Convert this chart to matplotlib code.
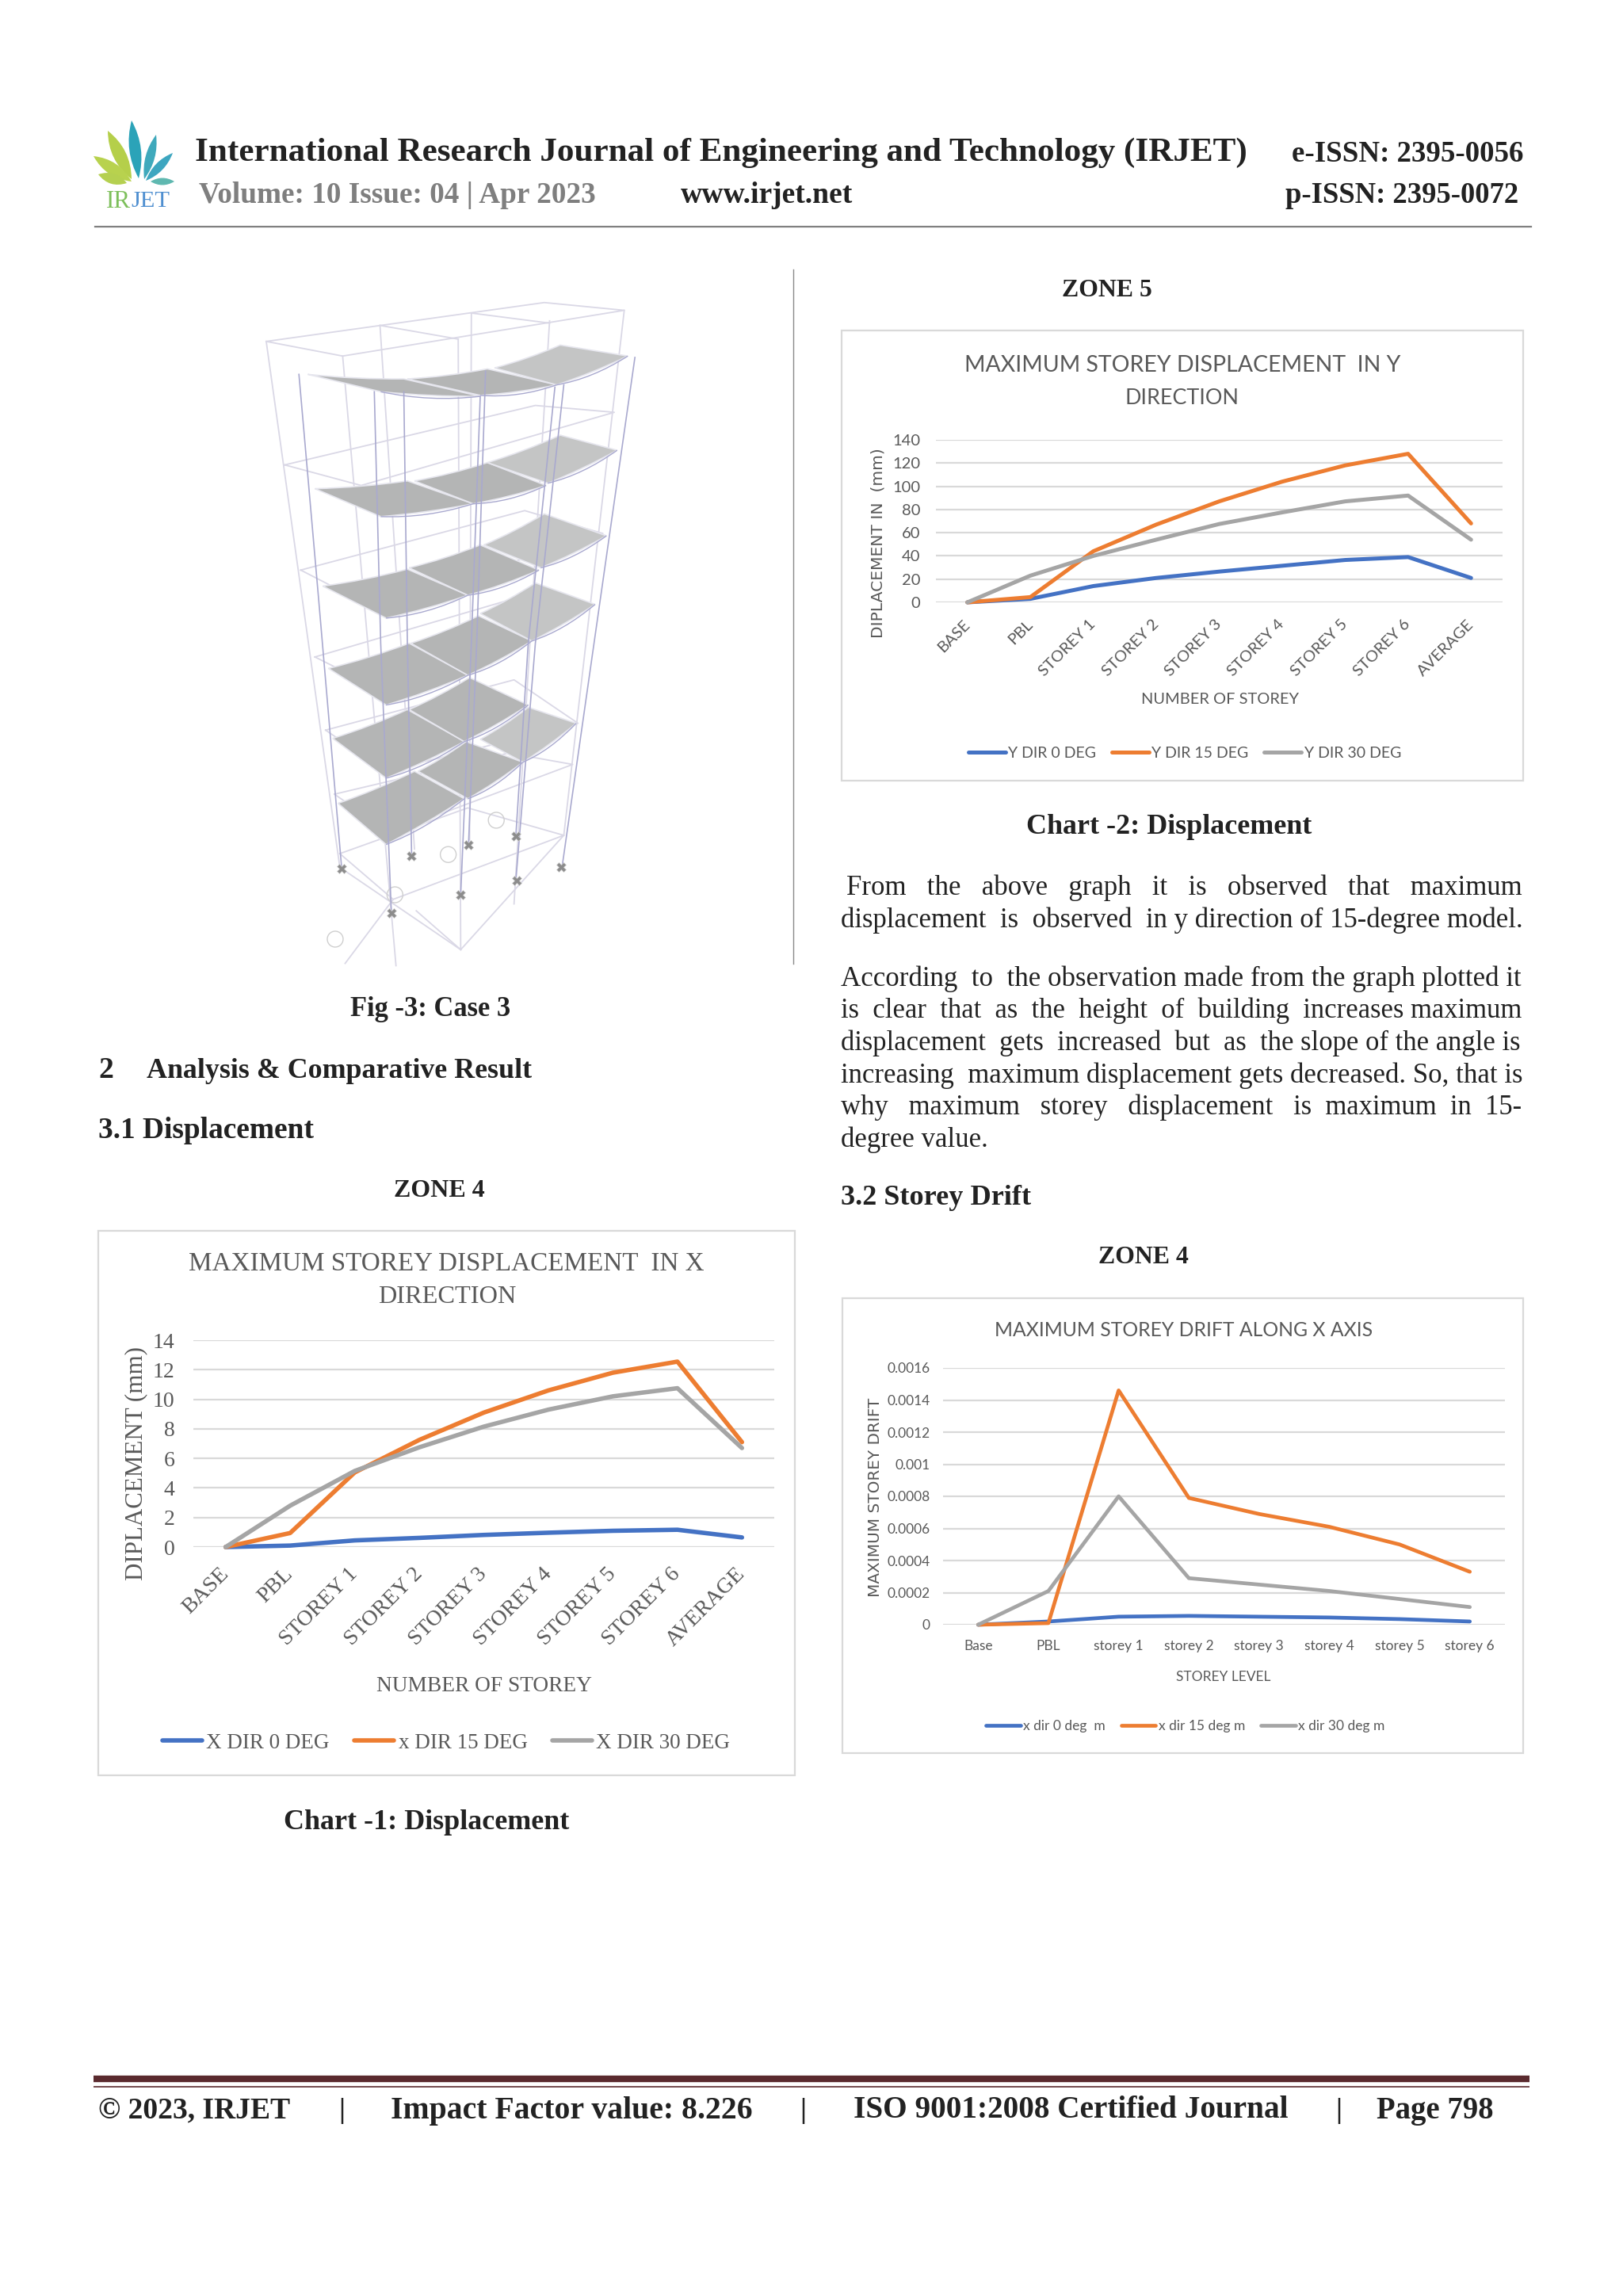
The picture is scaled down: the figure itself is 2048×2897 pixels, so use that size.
import matplotlib
matplotlib.use("Agg")
from matplotlib import pyplot as plt
from matplotlib.patches import Rectangle, PathPatch, Circle
from matplotlib.path import Path

W, H = 2048, 2897
SERIF = "Liberation Serif"
SANS = "Lato"
TXT = "#595959"
INK = "#222222"
BLUE, ORANGE, GREY = "#4472C4", "#ED7D31", "#A5A5A5"

# chart data
cats_disp = ["BASE", "PBL", "STOREY 1", "STOREY 2", "STOREY 3", "STOREY 4", "STOREY 5", "STOREY 6", "AVERAGE"]
x_dir_0 = [0, 0.1, 0.45, 0.62, 0.82, 0.97, 1.1, 1.17, 0.65]
x_dir_15 = [0, 0.95, 5.05, 7.25, 9.1, 10.6, 11.8, 12.55, 7.1]
x_dir_30 = [0, 2.8, 5.15, 6.75, 8.15, 9.3, 10.2, 10.75, 6.7]
ticks_x = [0, 2, 4, 6, 8, 10, 12, 14]

y_dir_0 = [0, 3, 14, 21, 26.5, 31.5, 36.5, 39, 21]
y_dir_15 = [0, 4.5, 44, 67, 87, 104, 118, 128, 68]
y_dir_30 = [0, 23, 40, 54, 67.5, 77.5, 87, 92, 54]
ticks_y = [0, 20, 40, 60, 80, 100, 120, 140]

cats_drift = ["Base", "PBL", "storey 1", "storey 2", "storey 3", "storey 4", "storey 5", "storey 6"]
drift_0 = [0, 0.00002, 0.00005, 0.000055, 0.00005, 0.000045, 0.000035, 0.00002]
drift_15 = [0, 0.00001, 0.00146, 0.00079, 0.00069, 0.00061, 0.0005, 0.00033]
drift_30 = [0, 0.00021, 0.0008, 0.00029, 0.00025, 0.00021, 0.00016, 0.00011]
ticks_drift = [0, 0.0002, 0.0004, 0.0006, 0.0008, 0.001, 0.0012, 0.0014, 0.0016]
ticklabels_drift = ["0", "0.0002", "0.0004", "0.0006", "0.0008", "0.001", "0.0012", "0.0014", "0.0016"]

fig = plt.figure(figsize=(W / 100, H / 100), dpi=100, facecolor="white")
page = fig.add_axes([0, 0, 1, 1])
page.set_xlim(0, W)
page.set_ylim(H, 0)
page.axis("off")
renderer = fig.canvas.get_renderer()


def put(x, y, s, width=None, size=24, ha="left", color="black", weight="normal", family=SERIF, rotation=0):
    if rotation == 0:
        y += 3
    t = page.text(x, y, s, fontsize=size, ha=ha, va="center", color=color, fontweight=weight,
                  family=family, rotation=rotation)
    if width:
        box = t.get_window_extent(renderer)
        t.set_fontsize(size * width / (box.height if rotation else box.width))
    return t


def span(x0, x1, y, s, **kw):
    # text squeezed or stretched to run from x0 to x1
    return put(x0, y, s, width=x1 - x0, **kw)


def justified(x0, x1, y, s, size=25):
    # body text: widen the gaps with extra spaces, then fit the last few pixels
    words = s.split(" ")
    gaps = [1] * (len(words) - 1)
    i = 0
    while True:
        line = "".join(w + " " * g for w, g in zip(words, gaps + [0]))
        t = page.text(0, 0, line, fontsize=size, family=SERIF)
        wide = t.get_window_extent(renderer).width
        t.remove()
        if wide >= (x1 - x0) - 4:
            break
        gaps[i % len(gaps)] += 1
        i += 1
    return span(x0, x1, y, line, color=INK, size=size)


def chart(box, frame, cats, series, names, ticks, ticklabels, ymax, lw, font, tick_size, pad_y, pad_x, legend, rotated=True):
    l, t, r, b = box
    page.add_patch(Rectangle((frame[0], frame[1]), frame[2] - frame[0], frame[3] - frame[1],
                             fc="white", ec="#D9D9D9", lw=1.6))
    ax = fig.add_axes([l / W, 1 - b / H, (r - l) / W, (b - t) / H], facecolor="none")
    for vals, color, name in zip(series, [BLUE, ORANGE, GREY], names):
        ax.plot(range(len(cats)), vals, color=color, lw=lw, label=name, clip_on=False, zorder=3,
                solid_capstyle="round")
    ax.set_xlim(-0.5, len(cats) - 0.5)
    ax.set_ylim(0, ymax)
    ax.set_yticks(ticks)
    ax.set_yticklabels(ticklabels, fontsize=tick_size, color=TXT, family=font)
    ax.tick_params(axis="y", length=0, pad=pad_y)
    ax.tick_params(axis="x", length=0, pad=pad_x)
    ax.set_xticks(range(len(cats)))
    if rotated:
        ax.set_xticklabels(cats, fontsize=tick_size, color=TXT, family=font, rotation=45, ha="right",
                           rotation_mode="anchor", va="center")
    else:
        ax.set_xticklabels(cats, fontsize=tick_size, color=TXT, family=font)
    ax.grid(axis="y", color="#D9D9D9", lw=1.6)
    ax.set_axisbelow(True)
    for s in ax.spines.values():
        s.set_visible(False)
    lx, ly, lsize, hlen, cspace = legend
    ax.legend(loc="center", bbox_to_anchor=(lx, ly), bbox_transform=page.transData, ncol=3, frameon=False,
              prop={"family": font, "size": lsize}, labelcolor=TXT, handlelength=hlen, handletextpad=0.2,
              columnspacing=cspace, borderpad=0)
    return ax


# header
def leaf(base, tip, bulge, color):
    mx, my = (base[0] + tip[0]) / 2, (base[1] + tip[1]) / 2
    dx, dy = tip[1] - base[1], base[0] - tip[0]
    c1 = (mx + dx * bulge, my + dy * bulge)
    c2 = (mx - dx * bulge, my - dy * bulge)
    path = Path([base, c1, tip, c2, base], [Path.MOVETO, Path.CURVE3, Path.CURVE3, Path.CURVE3, Path.CURVE3])
    page.add_patch(PathPatch(path, fc=color, ec="none"))


for base, tip, bulge, color in [
    ((175, 225), (166, 152), 0.2, "#2BA3B8"),
    ((182, 226), (197, 170), 0.2, "#3FA9BC"),
    ((184, 228), (218, 193), 0.22, "#3DA6C0"),
    ((166, 226), (136, 165), 0.24, "#B5CF4A"),
    ((166, 229), (118, 197), 0.26, "#B8D24E"),
    ((160, 231), (124, 220), 0.35, "#B5D050"),
    ((190, 229), (220, 229), 0.3, "#5FB8B0"),
]:
    leaf(base, tip, bulge, color)
span(134, 165, 251, "IR", color="#7CBF5A")
span(165, 214, 251, "JET", color="#4F8FD0")
span(246, 1577, 190, "International Research Journal of Engineering and Technology (IRJET)", weight="bold", color=INK)
span(1630, 1922, 191, "e-ISSN: 2395-0056", weight="bold", color=INK)
span(251, 752, 243, "Volume: 10 Issue: 04 | Apr 2023", weight="bold", color="#7F7F7F")
span(859, 1077, 243, "www.irjet.net", weight="bold", color=INK)
span(1622, 1916, 243, "p-ISSN: 2395-0072", weight="bold", color=INK)
page.plot([120, 1932], [286, 286], color="#808080", lw=1.6)
page.plot([1001, 1001], [340, 1216], color="#8A8A8A", lw=1.0)


# building sketch, coordinates of the small picture in the left column
def bx(p):
    return 200 + p[0] / 2.229, 350 + p[1] / 1.733


rings = [
    [(303, 140), (1085, 55), (1310, 72), (518, 172)],
    [(355, 410), (1060, 280), (1282, 295), (570, 455)],
    [(400, 640), (1030, 510), (1250, 560), (600, 720)],
    [(440, 830), (1010, 700), (1215, 715), (620, 900)],
    [(470, 990), (1000, 880), (1180, 975), (640, 1080)],
    [(495, 1130), (985, 1040), (1165, 1065), (650, 1215)],
    [(510, 1260), (870, 1160), (1140, 1220), (660, 1360)],
]
for ring in rings:
    pts = [bx(p) for p in ring + ring[:1]]
    page.plot(*zip(*pts), color="#DAD8E6", lw=1.3, zorder=1)
for a, b in [((303, 140), (510, 1290)), ((518, 172), (668, 1505)), ((843, 135), (850, 1470)),
             ((1100, 95), (1000, 1370)), ((1310, 72), (1140, 1220)), ((623, 105), (720, 1250)),
             ((880, 78), (875, 1230)), ((623, 105), (843, 135)), ((880, 78), (1100, 100)),
             ((660, 1360), (525, 1500)), ((850, 1470), (1140, 1220)), ((725, 1385), (850, 1470)),
             ((510, 1290), (850, 1470))]:
    page.plot(*zip(bx(a), bx(b)), color="#DAD8E6", lw=1.3, zorder=1)

bays = [
    [(420, 212), (690, 222), (905, 260), (625, 250)],
    [(700, 222), (925, 200), (1120, 235), (905, 258)],
    [(945, 198), (1130, 148), (1320, 172), (1120, 235)],
    [(440, 462), (700, 445), (885, 495), (625, 523)],
    [(720, 445), (925, 405), (1090, 455), (885, 495)],
    [(925, 405), (1130, 345), (1290, 378), (1095, 450)],
    [(462, 675), (700, 638), (870, 695), (640, 745)],
    [(705, 635), (905, 585), (1070, 640), (870, 695)],
    [(915, 585), (1085, 517), (1260, 565), (1075, 635)],
    [(478, 855), (705, 800), (870, 870), (640, 935)],
    [(710, 800), (900, 740), (1050, 795), (870, 870)],
    [(905, 735), (1060, 668), (1228, 715), (1050, 795)],
    [(490, 1008), (700, 945), (860, 1015), (640, 1095)],
    [(705, 945), (875, 875), (1040, 935), (860, 1015)],
    [(905, 1010), (1040, 940), (1175, 975), (1025, 1060)],
    [(505, 1150), (720, 1080), (860, 1140), (640, 1240)],
    [(730, 1080), (865, 1015), (1025, 1060), (870, 1140)],
]
for i, (a, b, c, d) in enumerate(bays):
    sag_back = ((a[0] + b[0]) / 2, (a[1] + b[1]) / 2 + 6)
    sag_front = ((c[0] + d[0]) / 2, (c[1] + d[1]) / 2 + 6)
    verts = [bx(p) for p in [a, sag_back, b, c, sag_front, d, a]]
    codes = [Path.MOVETO, Path.CURVE3, Path.CURVE3, Path.LINETO, Path.CURVE3, Path.CURVE3, Path.LINETO]
    fc = "#C4C5C5" if i % 3 == 2 else "#B4B5B5"
    page.add_patch(PathPatch(Path(verts, codes), fc=fc, ec="#E6E6EE", lw=1.2, zorder=2))
    beam = [bx(p) for p in [d, (sag_front[0], sag_front[1] + 12), c]]
    page.add_patch(PathPatch(Path(beam, [Path.MOVETO, Path.CURVE3, Path.CURVE3]), fc="none", ec="#A9A9CF", lw=1.0, zorder=3))

for col in [[(395, 212), (450, 700), (515, 1290)], [(607, 250), (625, 800), (655, 1390)],
            [(690, 250), (700, 800), (712, 1265)], [(905, 260), (880, 800), (850, 1350)],
            [(920, 205), (895, 800), (872, 1240)], [(1140, 235), (1060, 800), (1005, 1320)],
            [(1115, 240), (1040, 800), (1005, 1222)], [(1340, 175), (1225, 800), (1135, 1290)]]:
    page.plot(*zip(*[bx(p) for p in col]), color="#A9A9CF", lw=1.2, zorder=3)
for p in [(515, 1293), (712, 1265), (872, 1240), (1005, 1222), (655, 1390), (850, 1350), (1007, 1318), (1133, 1290)]:
    page.plot(*bx(p), marker="X", ms=9, color="#8C8C8C", mec="#D0D0D0", mew=0.5, zorder=4)
for p in [(497, 1447), (665, 1350), (815, 1262), (950, 1187)]:
    page.add_patch(Circle(bx(p), 10, fc="none", ec="#CFCFCF", lw=1, zorder=1))

# left column text
span(442, 645, 1271, "Fig -3: Case 3", weight="bold", color=INK)
put(124, 1348, "2", size=27, color=INK, weight="bold")
span(185, 671, 1348, "Analysis & Comparative Result", weight="bold", color=INK)
span(124, 397, 1424, "3.1 Displacement", weight="bold", color=INK)
span(497, 612, 1500, "ZONE 4", weight="bold", color=INK)
span(358, 719, 2296, "Chart -1: Displacement", weight="bold", color=INK)

# right column text
span(1340, 1454, 363, "ZONE 5", weight="bold", color=INK)
span(1295, 1656, 1041, "Chart -2: Displacement", weight="bold", color=INK)
body = [
    (1068, 1922, 1117, "From the above graph it is observed that maximum"),
    (1061, 1923, 1158, "displacement is observed in y direction of 15-degree model."),
    (1061, 1922, 1232, "According to the observation made from the graph plotted it"),
    (1061, 1922, 1272, "is clear that as the height of building increases maximum"),
    (1061, 1922, 1313, "displacement gets increased but as the slope of the angle is"),
    (1061, 1922, 1354, "increasing maximum displacement gets decreased. So, that is"),
    (1061, 1922, 1394, "why maximum storey displacement is maximum in 15-"),
]
for x0, x1, y, line in body:
    justified(x0, x1, y, line)
put(1061, 1435, "degree value.", size=25, color=INK)
span(1061, 1301, 1509, "3.2 Storey Drift", weight="bold", color=INK)
span(1386, 1500, 1583, "ZONE 4", weight="bold", color=INK)

# charts
chart((244, 1691, 977, 1952), (124, 1553, 1003, 2240), cats_disp, [x_dir_0, x_dir_15, x_dir_30],
      ["X DIR 0 DEG", "x DIR 15 DEG", "X DIR 30 DEG"], ticks_x, [str(v) for v in ticks_x], 14,
      4.0, SERIF, 20, 17, 22, (563, 2199, 19.5, 1.85, 1.15))
span(238, 890, 1592, "MAXIMUM STOREY DISPLACEMENT  IN X", color=TXT)
span(477, 652, 1634, "DIRECTION", color=TXT)
span(475, 747, 2124, "NUMBER OF STOREY", color=TXT)
put(172, 1846, "DIPLACEMENT (mm)", width=295, ha="center", color=TXT, rotation=90)

chart((1181, 555, 1896, 760), (1062, 417, 1922, 985), cats_disp, [y_dir_0, y_dir_15, y_dir_30],
      ["Y DIR 0 DEG", "Y DIR 15 DEG", "Y DIR 30 DEG"], ticks_y, [str(v) for v in ticks_y], 140,
      3.6, SANS, 14.5, 14, 18, (1495, 950, 14, 2.4, 1.0))
span(1217, 1767, 458, "MAXIMUM STOREY DISPLACEMENT  IN Y", family=SANS, color=TXT)
span(1420, 1564, 500, "DIRECTION", family=SANS, color=TXT)
span(1440, 1639, 880, "NUMBER OF STOREY", family=SANS, color=TXT)
put(1108, 685, "DIPLACEMENT IN  (mm)", width=240, ha="center", family="DejaVu Sans", color=TXT, rotation=90)

chart((1190, 1726, 1899, 2050), (1063, 1638, 1922, 2212), cats_drift, [drift_0, drift_15, drift_30],
      ["x dir 0 deg  m", "x dir 15 deg m", "x dir 30 deg m"], ticks_drift, ticklabels_drift, 0.0016,
      3.4, SANS, 12.5, 12, 14, (1496, 2178, 12.5, 2.5, 1.15), rotated=False)
span(1255, 1732, 1676, "MAXIMUM STOREY DRIFT ALONG X AXIS", family=SANS, color=TXT)
span(1484, 1604, 2113, "STOREY LEVEL", family=SANS, color=TXT)
put(1104, 1889, "MAXIMUM STOREY DRIFT", width=250, ha="center", family="DejaVu Sans", color=TXT, rotation=90)

# footer
page.plot([118, 1930], [2623, 2623], color="#5A2A2E", lw=6, solid_capstyle="butt")
page.plot([118, 1930], [2633, 2633], color="#5A2A2E", lw=1.2, solid_capstyle="butt")
span(124, 366, 2660, "© 2023, IRJET", weight="bold", color=INK)
span(493, 950, 2660, "Impact Factor value: 8.226", weight="bold", color=INK)
span(1077, 1626, 2660, "ISO 9001:2008 Certified Journal", weight="bold", color=INK)
span(1737, 1885, 2660, "Page 798", weight="bold", color=INK)
for x in (431, 1013, 1689):
    put(x, 2660, "|", size=26, ha="center", weight="bold", color=INK)

fig.savefig("out.png", dpi=100)
